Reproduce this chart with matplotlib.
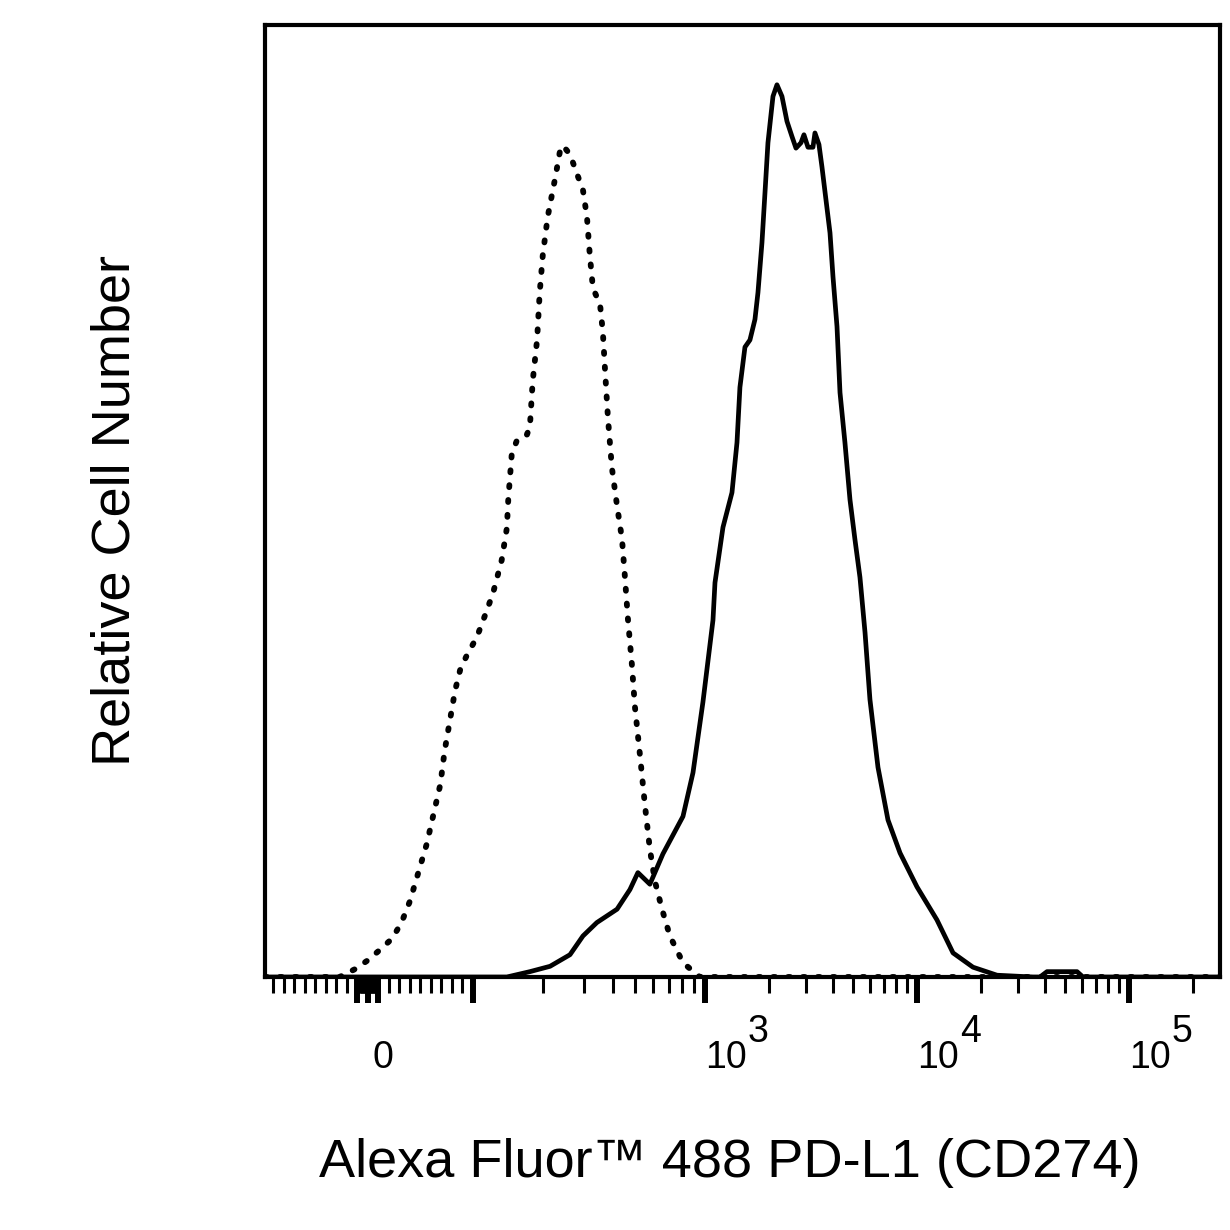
import numpy as np
import matplotlib
matplotlib.use("Agg")
import matplotlib.pyplot as plt
from matplotlib.ticker import FixedLocator, NullFormatter
import matplotlib.transforms as mtransforms

plt.rcParams['font.family'] = ['Liberation Sans', 'DejaVu Sans']

# isotype control (dotted), fluorescence vs. relative count (% of max)
iso_x = [-98, -27, -12, -1, 11, 23, 32, 40, 48, 56, 62, 69, 73, 78, 83, 88, 94,
         104, 113, 122, 133, 140, 142, 147, 155, 171, 176, 181, 189, 194, 200,
         210, 226, 237, 244, 262, 281, 298, 310, 319, 329, 353, 363, 371, 382,
         397, 418, 439, 452, 466, 484, 499, 525, 551, 579, 609, 653, 706, 804,
         951, 268000]
iso_y = [0, 0, 0.9, 1.8, 3.0, 4.3, 6.1, 8.5, 11.7, 14.9, 18.0, 21.6, 25.3, 28.7,
         32.1, 34.5, 36.0, 38.1, 40.6, 43.0, 46.7, 50.3, 53.5, 58.6, 60.2, 60.8,
         61.7, 66.8, 71.4, 76.7, 80.9, 85.2, 89.5, 92.5, 93.2, 92.2, 90.0, 88.2,
         85.2, 80.9, 77.2, 75.4, 72.3, 68.0, 62.6, 57.1, 52.8, 49.1, 44.8, 40.0,
         35.1, 30.3, 24.8, 19.3, 14.3, 10.7, 7.6, 4.6, 1.6, 0, 0]

# PD-L1 stained (solid)
pd_x = [-98, 140, 176, 215, 262, 298, 342, 418, 475, 514, 579, 659, 804, 888,
        980, 1091, 1115, 1216, 1341, 1416, 1462, 1544, 1630, 1721, 1778, 1857,
        1919, 1982, 2093, 2186, 2308, 2437, 2573, 2687, 2837, 2930, 3061, 3231,
        3302, 3449, 3563, 3722, 3888, 4016, 4195, 4334, 4573, 4830, 5100, 5383,
        5688, 6000, 6547, 7298, 8318, 10000, 12420, 14790, 18370, 23850, 35250,
        38020, 41040, 56880, 60670, 268000]
pd_y = [0, 0, 0.6, 1.2, 2.5, 4.6, 6.1, 7.6, 9.8, 11.7, 10.4, 13.8, 18.0, 22.9,
        30.8, 40.0, 44.2, 50.4, 54.3, 59.9, 66.1, 70.6, 71.4, 73.7, 76.7, 82.3,
        87.9, 93.5, 98.7, 100, 98.7, 95.9, 94.2, 92.9, 93.5, 94.4, 93.0, 93.0,
        94.6, 93.3, 90.8, 87.1, 83.4, 78.5, 72.9, 65.5, 59.9, 53.5, 49.0, 44.8,
        38.6, 31.1, 23.5, 17.6, 13.9, 10.1, 6.4, 2.7, 1.1, 0.2, 0, 0, 0.6, 0.6,
        0, 0]

major_ticks = [-10, 0, 10, 100, 1e3, 1e4, 1e5]
tick_labels = {0: '0', 1e3: ('10', '3'), 1e4: ('10', '4'), 1e5: ('10', '5')}
minor_ticks = ([-v for v in range(20, 100, 10)] + list(range(-9, 10))
               + list(range(20, 100, 10)) + list(range(200, 1000, 100))
               + list(range(2000, 10000, 1000)) + list(range(20000, 100000, 10000))
               + [200000])

# biexponential-ish display: linear near zero, log above
LIN, SLOPE, DEC1, DEC2 = 100.0, 1.05, 232.0, 212.0


def fwd(v):
    v = np.asarray(v, float)
    a = np.abs(v)
    d1 = LIN * SLOPE
    lo = d1 + DEC1 * np.log10(np.clip(a, LIN, 1000) / LIN)
    hi = d1 + DEC1 + DEC2 * np.log10(np.maximum(a, 1000) / 1000)
    d = np.where(a <= LIN, a * SLOPE, np.where(a <= 1000, lo, hi))
    return np.sign(v) * d


def inv(d):
    d = np.asarray(d, float)
    a = np.abs(d)
    d1 = LIN * SLOPE
    d2 = d1 + DEC1
    with np.errstate(over='ignore'):
        lo = LIN * 10 ** ((np.clip(a, d1, d2) - d1) / DEC1)
        hi = 1000 * 10 ** ((np.clip(a, d2, 3000) - d2) / DEC2)
    v = np.where(a <= d1, a / SLOPE, np.where(a <= d2, lo, hi))
    return np.sign(d) * v


fig = plt.figure(figsize=(12.3, 12.3), dpi=100)
ax = fig.add_axes([265 / 1230, 253 / 1230, 955 / 1230, 952 / 1230])
ax.set_xscale('function', functions=(fwd, inv))

ax.plot(iso_x, iso_y, color='black', lw=4.2, linestyle=(0, (0.35, 2.2)),
        dash_capstyle='round', solid_capstyle='round', zorder=3)
ax.plot(pd_x, pd_y, color='black', lw=3.4, solid_joinstyle='round', zorder=3)

ax.set_xlim(-98, 268600)
ax.set_ylim(0, 106.7)

for s in ax.spines.values():
    s.set_linewidth(3)

ax.xaxis.set_major_locator(FixedLocator(major_ticks))
ax.xaxis.set_minor_locator(FixedLocator(minor_ticks))
ax.xaxis.set_major_formatter(NullFormatter())
ax.xaxis.set_minor_formatter(NullFormatter())
ax.tick_params(axis='x', which='major', direction='out', length=18.5, width=4.3)
ax.tick_params(axis='x', which='minor', direction='out', length=11.5, width=2.2)
ax.set_yticks([])

# tick labels with raised exponents
blend = mtransforms.blended_transform_factory(ax.transData, ax.transAxes)
base_y = -91 / 952
sup_y = base_y + 26 / 952
for val, lab in tick_labels.items():
    if isinstance(lab, str):
        ax.annotate(lab, xy=(val, base_y), xycoords=blend, xytext=(5, 0),
                    textcoords='offset pixels', ha='left', va='baseline',
                    fontsize=27)
        continue
    t10 = ax.text(val, base_y, lab[0], transform=blend, ha='left',
                  va='baseline', fontsize=27)
    ax.annotate(lab[1], xy=(1.0, sup_y), xycoords=(t10, ax.transAxes),
                xytext=(1, 0), textcoords='offset pixels',
                ha='left', va='baseline', fontsize=27)

ax.set_xlabel('Alexa Fluor\u2122 488 PD-L1 (CD274)', fontsize=39)
ax.xaxis.set_label_coords(0.487, -0.169)
ax.set_ylabel('Relative Cell Number', fontsize=39)
ax.yaxis.set_label_coords(-0.13, 0.4895)

fig.savefig('out.png', dpi=100)
